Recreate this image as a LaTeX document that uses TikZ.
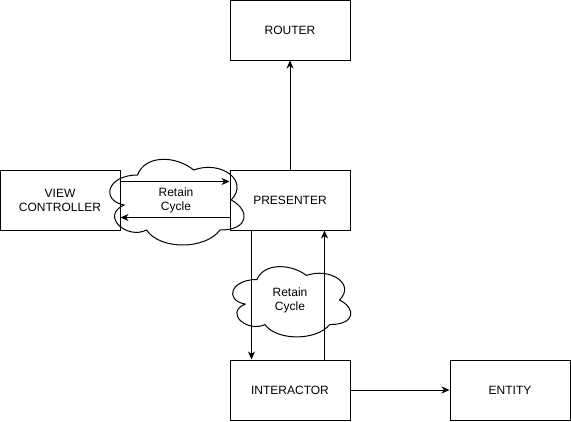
\documentclass[tikz,border=0pt]{standalone}
\usepackage{fontspec}
\setmainfont{Liberation Sans}
\usetikzlibrary{arrows.meta}
\begin{document}
\begin{tikzpicture}[x=1pt,y=-1pt,
  box/.style={draw=black,line width=1pt,minimum width=120pt,minimum height=60pt,inner sep=0pt,align=center,font=\fontsize{12}{14}\selectfont},
  lbl/.style={align=center,inner sep=0pt,font=\fontsize{12}{14}\selectfont},
  arr/.style={line width=1pt,-{Stealth[length=8pt,width=7pt,inset=2.5pt]}},
  cloudline/.style={line width=1pt}]
\useasboundingbox (0,0) rectangle (571,421);
% clouds: draw.io cloud path in a box (x0,y0,w,h)
\newcommand{\mycloud}[4]{%
  \draw[cloudline,x=#3pt,y=-#4pt,shift={(#1pt,-#2pt)}]
    (0.25,0.25) .. controls (0.05,0.25) and (0,0.5) .. (0.16,0.55)
    .. controls (0,0.66) and (0.18,0.9) .. (0.31,0.8)
    .. controls (0.4,1) and (0.7,1) .. (0.8,0.8)
    .. controls (1,0.8) and (1,0.6) .. (0.875,0.5)
    .. controls (1,0.3) and (0.8,0.1) .. (0.625,0.2)
    .. controls (0.5,0.05) and (0.3,0.05) .. (0.25,0.25) -- cycle;}
\mycloud{100}{150}{150}{100}
\mycloud{224}{259}{132}{82}
\node[box] (router) at (290,30) {ROUTER};
\node[box] (vc) at (60,200) {VIEW\\CONTROLLER};
\node[box] (pres) at (290,200) {PRESENTER};
\node[box] (inter) at (290,390) {INTERACTOR};
\node[box] (entity) at (510,390) {ENTITY};
\node[lbl] (rc1) at (176,200) {Retain\\Cycle};
\node[lbl] (rc2) at (290,300) {Retain\\Cycle};
\draw[arr] (pres.north) -- (router.south);
\draw[arr] ([yshift=-12pt]vc.north east) -- ([yshift=-12pt]pres.north west);
\draw[arr] ([yshift=13pt]pres.south west) -- ([yshift=13pt]vc.south east);
\draw[arr] ([xshift=22pt]pres.south west) -- ([xshift=22pt]inter.north west);
\draw[arr] ([xshift=-26pt]inter.north east) -- ([xshift=-26pt]pres.south east);
\draw[arr] (inter.east) -- (entity.west);
\end{tikzpicture}
\end{document}
